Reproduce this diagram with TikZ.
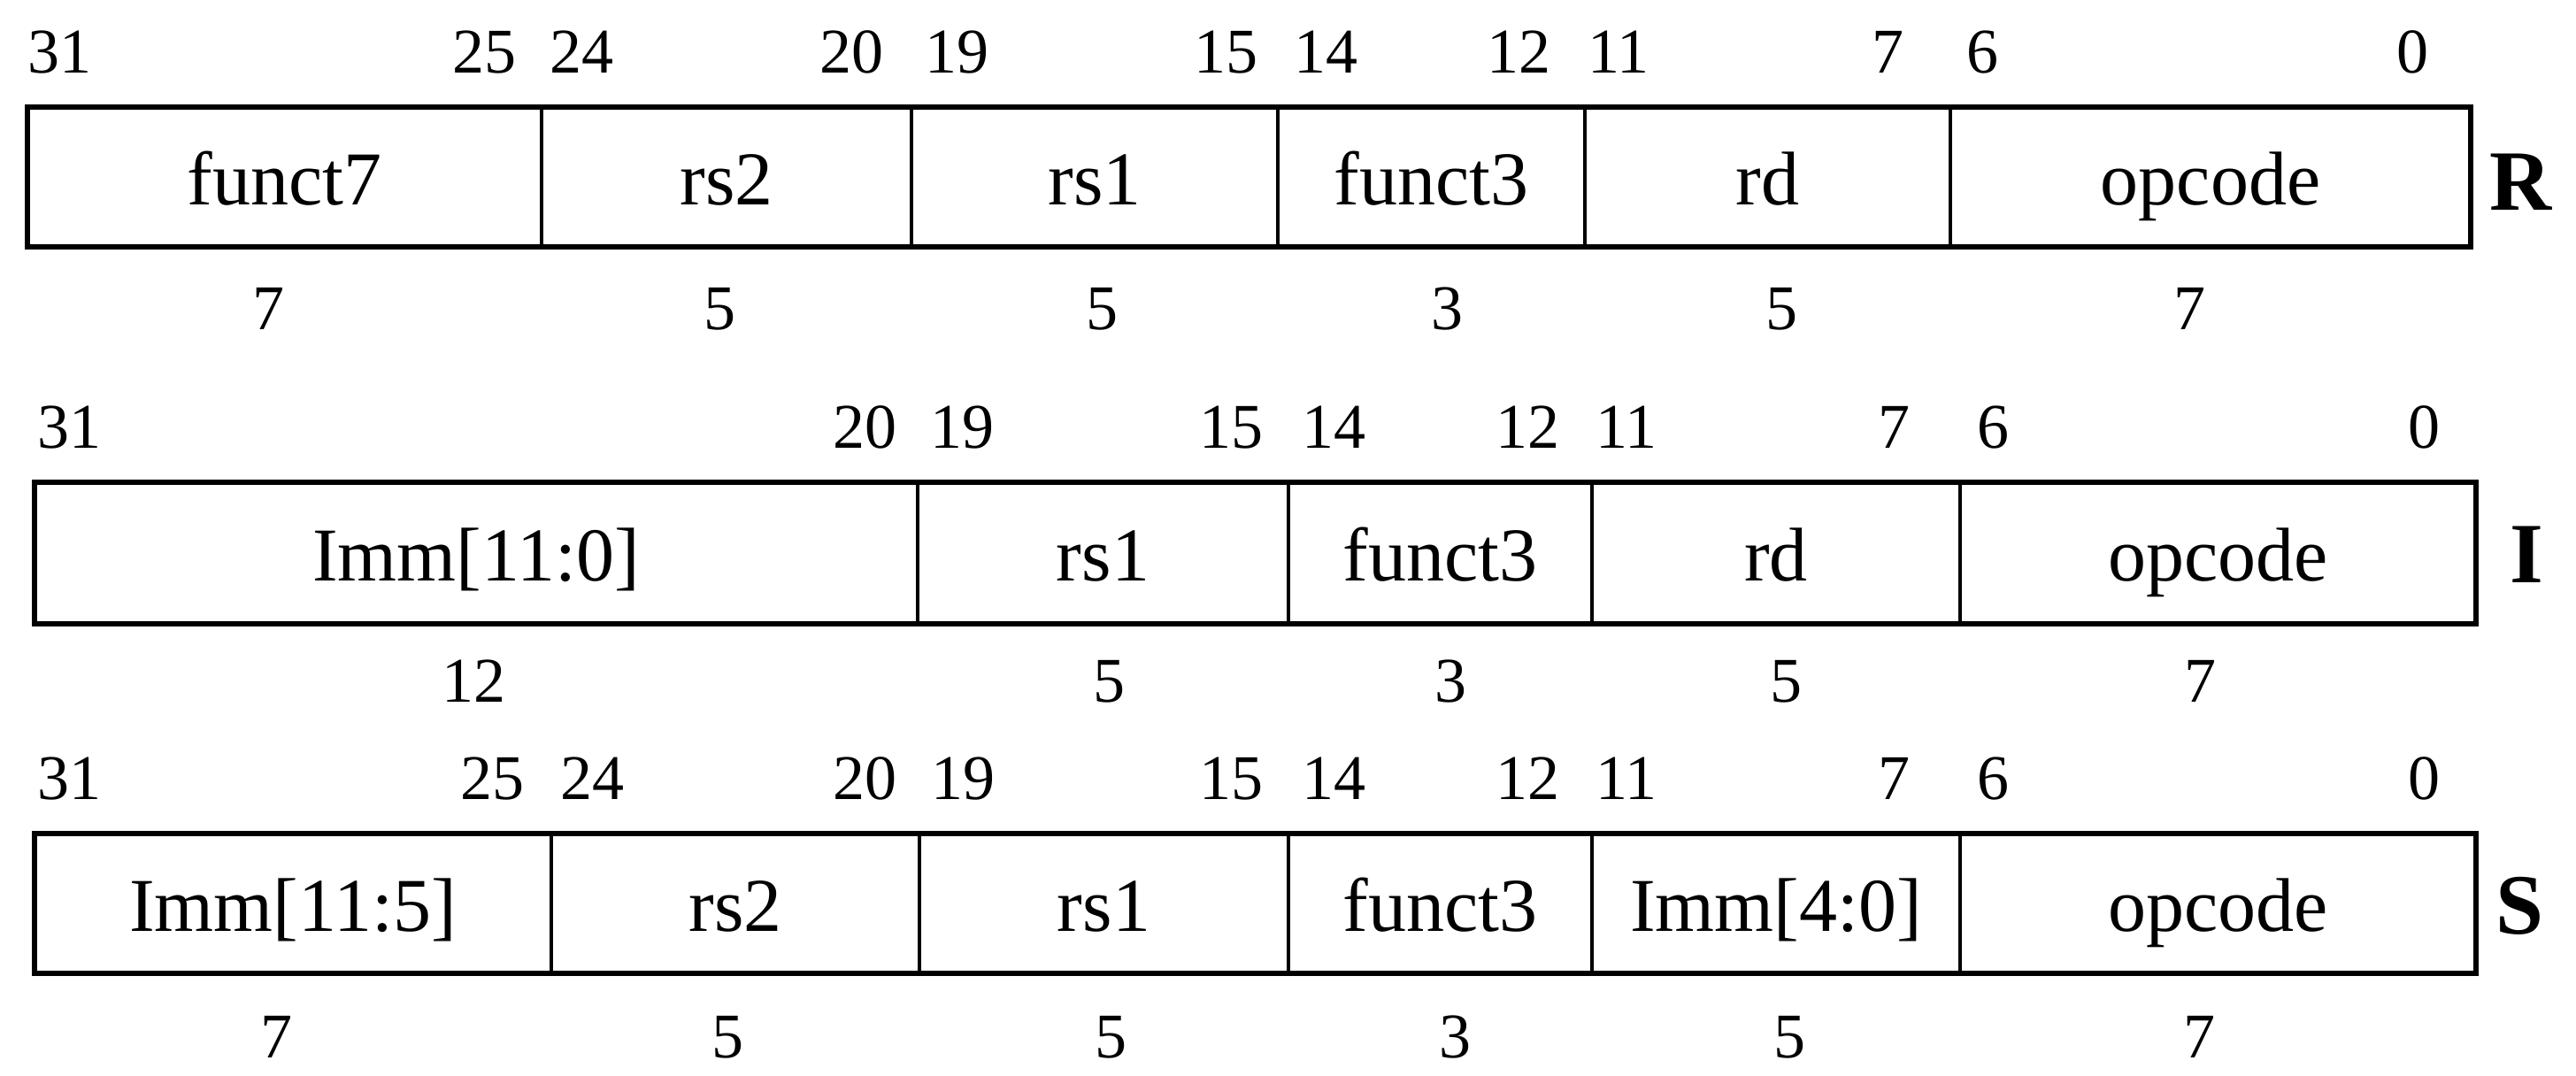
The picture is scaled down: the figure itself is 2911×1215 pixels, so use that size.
\documentclass[tikz,border=0pt]{standalone}
\usepackage{fontspec}
\setmainfont{Liberation Serif}
\begin{document}
\begin{tikzpicture}[x=1pt,y=-1pt,
  fld/.style={draw, line width=4pt, inner sep=0pt, outer sep=0pt,
    font=\fontsize{86}{100}\selectfont, text height=80pt, text depth=18pt},
  bitnum/.style={inner sep=0pt, font=\fontsize{72}{80}\selectfont},
  wid/.style={inner sep=0pt, anchor=base, font=\fontsize{72}{80}\selectfont},
  fmt/.style={inner sep=0pt, anchor=base, font=\fontsize{97}{110}\selectfont\bfseries},
  outer/.style={line width=6pt}]
\useasboundingbox[fill=white] (0,0) rectangle (2911,1215);

% ---------------- R type ----------------
\node[fld, minimum width=581pt, minimum height=158pt] (R1) at (321.5,200) {funct7};
\node[fld, minimum width=418pt, minimum height=158pt] (R2) at (821,200) {rs2};
\node[fld, minimum width=414pt, minimum height=158pt] (R3) at (1237,200) {rs1};
\node[fld, minimum width=347pt, minimum height=158pt] (R4) at (1617.5,200) {funct3};
\node[fld, minimum width=413pt, minimum height=158pt] (R5) at (1997.5,200) {rd};
\node[fld, minimum width=588pt, minimum height=158pt] (R6) at (2498,200) {opcode};
\draw[outer] (R1.north west) rectangle (R6.south east);
\node[fmt] (Rlab) at (2848,237) {R};

\node[bitnum, anchor=base west] (Rt31) at (31,82) {31};
\node[bitnum, anchor=base east] (Rt25) at (584,82) {25};
\node[bitnum, anchor=base west] (Rt24) at (621,82) {24};
\node[bitnum, anchor=base east] (Rt20) at (999,82) {20};
\node[bitnum, anchor=base west] (Rt19) at (1045,82) {19};
\node[bitnum, anchor=base east] (Rt15) at (1422,82) {15};
\node[bitnum, anchor=base west] (Rt14) at (1462,82) {14};
\node[bitnum, anchor=base east] (Rt12) at (1753,82) {12};
\node[bitnum, anchor=base west] (Rt11) at (1794,82) {11};
\node[bitnum, anchor=base east] (Rt7) at (2152,82) {7};
\node[bitnum, anchor=base west] (Rt6) at (2222,82) {6};
\node[bitnum, anchor=base east] (Rt0) at (2745,82) {0};

\node[wid] (Rw1) at (303,372) {7};
\node[wid] (Rw2) at (813,372) {5};
\node[wid] (Rw3) at (1245,372) {5};
\node[wid] (Rw4) at (1635,372) {3};
\node[wid] (Rw5) at (2013,372) {5};
\node[wid] (Rw6) at (2474,372) {7};

% ---------------- I type ----------------
\node[fld, minimum width=998pt, minimum height=160pt] (I1) at (538,625) {Imm[11:0]};
\node[fld, minimum width=419pt, minimum height=160pt] (I2) at (1246.5,625) {rs1};
\node[fld, minimum width=343pt, minimum height=160pt] (I3) at (1627.5,625) {funct3};
\node[fld, minimum width=416pt, minimum height=160pt] (I4) at (2007,625) {rd};
\node[fld, minimum width=583pt, minimum height=160pt] (I5) at (2506.5,625) {opcode};
\draw[outer] (I1.north west) rectangle (I5.south east);
\node[fmt] (Ilab) at (2855,658) {I};

\node[bitnum, anchor=base west] (It31) at (42,506) {31};
\node[bitnum, anchor=base east] (It20) at (1014,506) {20};
\node[bitnum, anchor=base west] (It19) at (1051,506) {19};
\node[bitnum, anchor=base east] (It15) at (1428,506) {15};
\node[bitnum, anchor=base west] (It14) at (1471,506) {14};
\node[bitnum, anchor=base east] (It12) at (1763,506) {12};
\node[bitnum, anchor=base west] (It11) at (1803,506) {11};
\node[bitnum, anchor=base east] (It7) at (2159,506) {7};
\node[bitnum, anchor=base west] (It6) at (2234,506) {6};
\node[bitnum, anchor=base east] (It0) at (2758,506) {0};

\node[wid] (Iw1) at (535,793) {12};
\node[wid] (Iw2) at (1253,793) {5};
\node[wid] (Iw3) at (1639,793) {3};
\node[wid] (Iw4) at (2018,793) {5};
\node[wid] (Iw5) at (2486,793) {7};

% ---------------- S type ----------------
\node[fld, minimum width=584pt, minimum height=158pt] (S1) at (331,1021) {Imm[11:5]};
\node[fld, minimum width=416pt, minimum height=158pt] (S2) at (831,1021) {rs2};
\node[fld, minimum width=417pt, minimum height=158pt] (S3) at (1247.5,1021) {rs1};
\node[fld, minimum width=343pt, minimum height=158pt] (S4) at (1627.5,1021) {funct3};
\node[fld, minimum width=416pt, minimum height=158pt] (S5) at (2007,1021) {Imm[4:0]};
\node[fld, minimum width=583pt, minimum height=158pt] (S6) at (2506.5,1021) {opcode};
\draw[outer] (S1.north west) rectangle (S6.south east);
\node[fmt] (Slab) at (2847,1055) {S};

\node[bitnum, anchor=base west] (St31) at (42,903) {31};
\node[bitnum, anchor=base east] (St25) at (593,903) {25};
\node[bitnum, anchor=base west] (St24) at (633,903) {24};
\node[bitnum, anchor=base east] (St20) at (1014,903) {20};
\node[bitnum, anchor=base west] (St19) at (1052,903) {19};
\node[bitnum, anchor=base east] (St15) at (1428,903) {15};
\node[bitnum, anchor=base west] (St14) at (1471,903) {14};
\node[bitnum, anchor=base east] (St12) at (1763,903) {12};
\node[bitnum, anchor=base west] (St11) at (1803,903) {11};
\node[bitnum, anchor=base east] (St7) at (2159,903) {7};
\node[bitnum, anchor=base west] (St6) at (2234,903) {6};
\node[bitnum, anchor=base east] (St0) at (2758,903) {0};

\node[wid] (Sw1) at (312,1195) {7};
\node[wid] (Sw2) at (822,1195) {5};
\node[wid] (Sw3) at (1255,1195) {5};
\node[wid] (Sw4) at (1644,1195) {3};
\node[wid] (Sw5) at (2022,1195) {5};
\node[wid] (Sw6) at (2485,1195) {7};
\end{tikzpicture}
\end{document}
